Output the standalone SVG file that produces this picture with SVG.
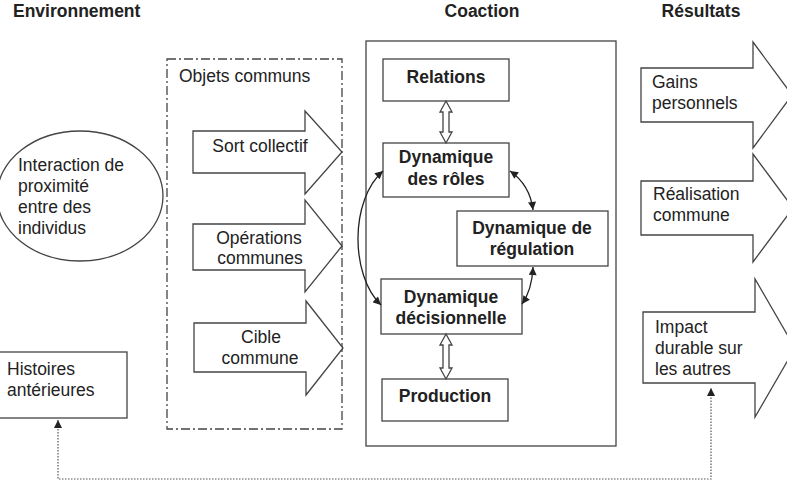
<svg xmlns="http://www.w3.org/2000/svg" width="787" height="486" viewBox="0 0 787 486">
<defs>
<style>
text{font-family:"Liberation Sans",Arial,sans-serif;font-size:17.5px;fill:#222}
.b{font-weight:bold}
.m{text-anchor:middle}
.s{fill:#fff;stroke:#444;stroke-width:1.3}
.c{fill:none;stroke:#222;stroke-width:1.3}
.d{fill:none;stroke:#555;stroke-width:1.2;stroke-dasharray:1.5,1.5}
</style>
<marker id="ah" viewBox="0 0 10 10" refX="10" refY="5" markerWidth="9" markerHeight="8" markerUnits="userSpaceOnUse" orient="auto-start-reverse">
<path d="M0,0 L10,5 L0,10 Z" fill="#222"/>
</marker>
</defs>
<rect width="787" height="486" fill="#fff"/>
<g id="titles">
<text class="b" x="13" y="17">Environnement</text>
<text class="b m" x="482" y="17">Coaction</text>
<text class="b m" x="701" y="17">Résultats</text>
</g>
<g id="interaction">
<ellipse class="s" cx="80" cy="196" rx="83" ry="65"/>
<text x="18" y="171">Interaction de</text>
<text x="18" y="192">proximité</text>
<text x="18" y="213">entre des</text>
<text x="18" y="234">individus</text>
</g>
<g id="histoires">
<rect class="s" x="-1" y="352" width="128" height="66"/>
<text x="7" y="375">Histoires</text>
<text x="7" y="396">antérieures</text>
</g>
<g id="objets">
<rect x="167" y="59" width="175" height="370" fill="none" stroke="#444" stroke-width="1.3" stroke-dasharray="9,3,2,3"/>
<text x="179" y="82">Objets communs</text>
</g>
<g id="sort">
<path class="s" d="M193,131 H305 V111 L342,152 L305,194 V173 H193 Z"/>
<text class="m" x="260" y="152">Sort collectif</text>
</g>
<g id="operations">
<path class="s" d="M193,224 H305 V200 L342,246 L305,292 V270 H193 Z"/>
<text class="m" x="259" y="244">Opérations</text>
<text class="m" x="260" y="264">communes</text>
</g>
<g id="cible">
<path class="s" d="M194,323 H306 V301 L343,348 L306,395 V372 H194 Z"/>
<text class="m" x="261" y="343">Cible</text>
<text class="m" x="260" y="364">commune</text>
</g>
<g id="coaction">
<rect class="s" x="366" y="41" width="250" height="405"/>
</g>
<g id="relations">
<rect class="s" x="383" y="59" width="126" height="42"/>
<text class="b m" x="446" y="83">Relations</text>
</g>
<g id="roles">
<rect class="s" x="383" y="143" width="126" height="54"/>
<text class="b m" x="446" y="163">Dynamique</text>
<text class="b m" x="446" y="185">des rôles</text>
</g>
<g id="regulation">
<rect class="s" x="457" y="211" width="151" height="55"/>
<text class="b m" x="532" y="234">Dynamique de</text>
<text class="b m" x="532" y="255">régulation</text>
</g>
<g id="decisionnelle">
<rect class="s" x="381" y="279" width="141" height="55"/>
<text class="b m" x="451" y="303">Dynamique</text>
<text class="b m" x="451" y="324">décisionnelle</text>
</g>
<g id="production">
<rect class="s" x="382" y="379" width="126" height="42"/>
<text class="b m" x="445" y="402">Production</text>
</g>
<g id="gains">
<path class="s" d="M641,68 H753 V42 L792,95 L753,148 V122 H641 Z"/>
<text x="652" y="88">Gains</text>
<text x="652" y="109">personnels</text>
</g>
<g id="realisation">
<path class="s" d="M641,181 H753 V154 L793,208 L753,262 V235 H641 Z"/>
<text x="653" y="200">Réalisation</text>
<text x="653" y="221">commune</text>
</g>
<g id="impact">
<path class="s" d="M643,312 H755 V279 L795,348 L755,417 V383 H643 Z"/>
<text x="655" y="333">Impact</text>
<text x="655" y="354">durable sur</text>
<text x="655" y="375">les autres</text>
</g>
<g id="connectors">
<polygon class="s" points="446,101 452,112 449,112 449,132 452,132 446,143 440,132 443,132 443,112 440,112"/>
<polygon class="s" points="446,334 452,345 449,345 449,368 452,368 446,379 440,368 443,368 443,345 440,345"/>
<path class="c" d="M383,171 C350,200 350,275 381,305" marker-start="url(#ah)" marker-end="url(#ah)"/>
<path class="c" d="M510,171 Q530,185 533,210" marker-start="url(#ah)" marker-end="url(#ah)"/>
<path class="c" d="M533,267 Q532,290 522,304" marker-start="url(#ah)" marker-end="url(#ah)"/>
<path class="d" d="M58,420 V479 H711 V388" marker-start="url(#ah)" marker-end="url(#ah)"/>
</g>
</svg>
